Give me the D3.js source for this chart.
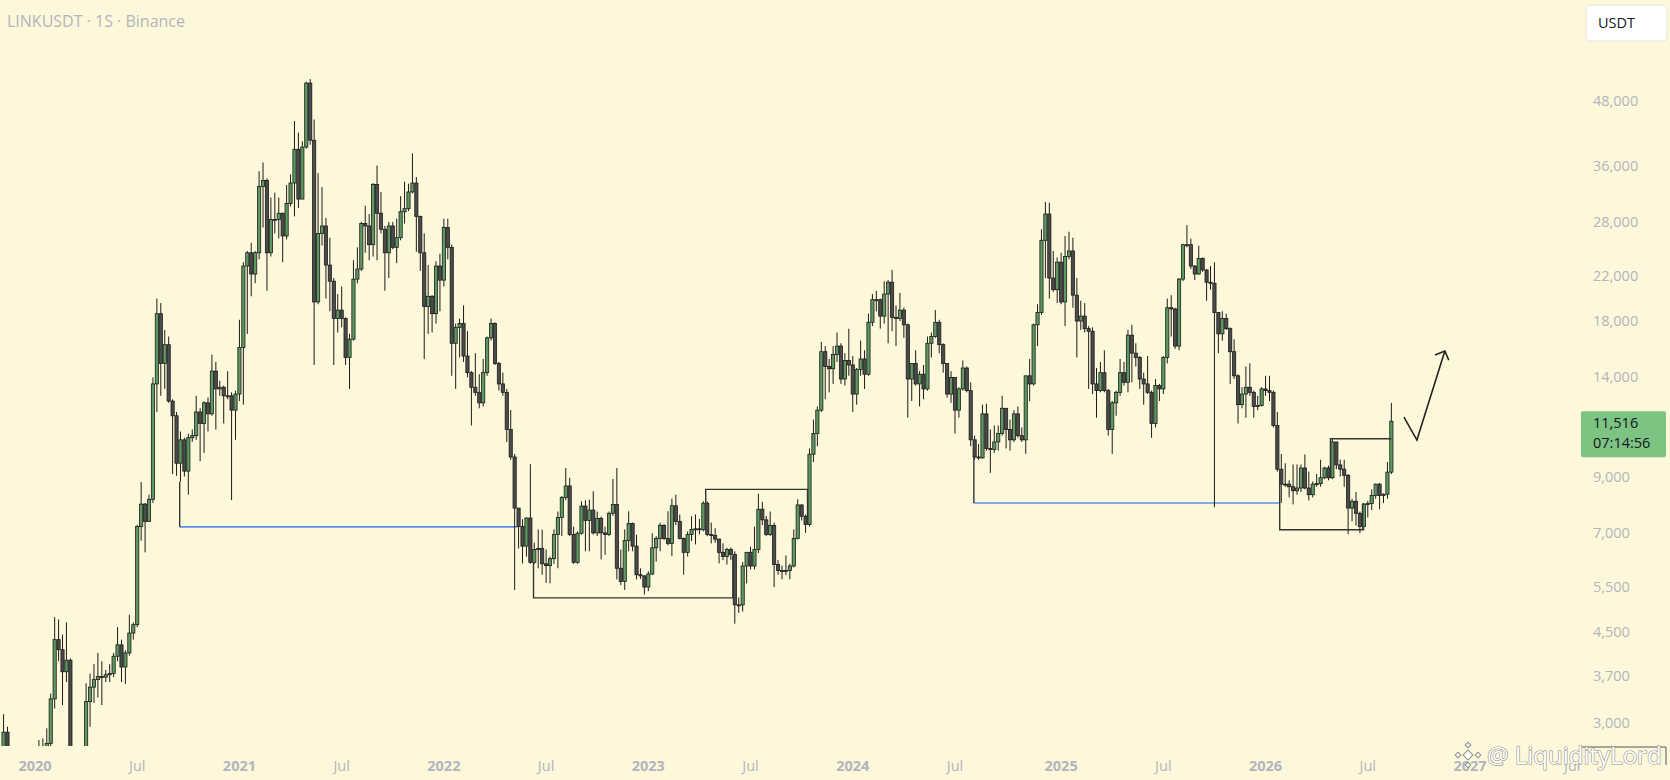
<!DOCTYPE html>
<html>
<head>
<meta charset="utf-8">
<script src="https://cdn.jsdelivr.net/npm/d3@7"></script>
<style>
html, body { margin: 0; padding: 0; background: #fdf8d9; }
svg { display: block; font-family: "Open Sans", "DejaVu Sans", sans-serif; }
</style>
</head>
<body>
<svg id="chart" width="1670" height="780"></svg>
<script>
// weekly LINKUSDT candles, first one is the week of 2019-11-11; each opens at the previous close
var firstWeek = Date.UTC(2019, 10, 11);
var firstOpen = 2600;

var closes = [
  2880, 2650, 2250, 2300, 2050, 1900, 1850, 1800,
  2050, 2300, 2500, 2740, 3340, 4350, 4160, 3770, 3970, 2400,
  2250, 2300, 2550, 3300, 3520, 3640, 3690, 3680, 3720, 3740,
  4040, 4250, 3850, 4100, 4480, 4650, 7200, 7960, 7370, 8130,
  13600, 18600, 14900, 16200, 12600, 11800, 9550, 10600, 9220, 10700,
  10800, 12000, 11400, 12500, 11900, 14400, 13300, 13400, 12900, 12900,
  12100, 13000, 16000, 23000, 24400, 22200, 24400, 32800, 33700, 24400,
  28300, 28300, 29100, 26300, 30400, 33300, 38700, 31000, 39100, 52000,
  40300, 19600, 26600, 27500, 23100, 21500, 18200, 18900, 18200, 15300,
  16600, 21700, 22700, 27800, 27500, 25300, 33100, 29100, 27100, 24400,
  27500, 25000, 26100, 29300, 29700, 32000, 33300, 28700, 24400, 19200,
  20100, 18600, 23000, 21600, 27300, 25000, 16300, 17500, 17800, 15400,
  14300, 13400, 13100, 12500, 14300, 16700, 17800, 14900, 13600, 13100,
  11100, 9820, 7820, 7200, 6600, 7480, 6140, 6500, 6530, 6100,
  6050, 6240, 6950, 7500, 8200, 8630, 6950, 6140, 6990, 7890,
  7400, 7750, 7000, 7470, 7000, 6950, 7640, 7950, 5980, 5640,
  6770, 7300, 6600, 5810, 5780, 5500, 5830, 6550, 6830, 7240,
  6830, 6680, 7900, 7370, 6830, 6420, 6950, 7110, 7130, 7100,
  7990, 6950, 6920, 6810, 6420, 6300, 6500, 6360, 5080, 5080,
  6040, 6420, 6040, 6500, 7780, 7420, 6950, 7240, 6080, 5920,
  5910, 5920, 6040, 6830, 7930, 7540, 7270, 9940, 10900, 12100,
  15700, 14700, 14550, 15500, 16100, 13900, 15100, 14800, 13000, 14500,
  15200, 14200, 17900, 19800, 19800, 18400, 20300, 21400, 18300, 18200,
  18900, 17700, 13900, 14900, 13600, 14200, 13300, 16300, 16800, 17900,
  16200, 14900, 13000, 14000, 12100, 13300, 14600, 13200, 10600, 9820,
  9780, 11900, 10200, 10150, 10500, 10900, 12200, 11100, 10600, 11900,
  10800, 10600, 14100, 13600, 17700, 18700, 25800, 29000, 21800, 20700,
  23400, 19600, 24000, 24600, 20200, 18000, 18400, 17400, 17200, 13600,
  13200, 14300, 13200, 11100, 12500, 13100, 14300, 13700, 16900, 15600,
  15300, 13900, 13600, 13100, 11400, 13500, 13300, 15300, 19100, 19000,
  16100, 21700, 25300, 25300, 23000, 22200, 23800, 22600, 21400, 21300,
  18700, 17000, 18200, 17400, 15700, 14100, 12400, 13000, 13400, 13100,
  12300, 12350, 13300, 13200, 13100, 11300, 9300, 8700, 8700, 8600,
  8450, 8550, 9350, 8550, 8300, 8700, 8720, 8950, 9350, 8950,
  10500, 9480, 9300, 9050, 7820, 8060, 7640, 7200, 7960, 7980,
  8270, 8700, 8270, 8320, 9180, 11516
];

var highs = [
  3120, 2950, 2680, 2450, 2350, 2100, 2000, 1900,
  2250, 2780, 2800, 2930, 3420, 4810, 4760, 4450, 4700, 4000,
  2600, 2550, 2650, 3580, 3740, 3900, 4100, 3950, 3800, 3900,
  4100, 4600, 4350, 4150, 4860, 4700, 7260, 8780, 8000, 8300,
  14000, 19900, 19500, 17300, 16800, 12700, 12000, 11000, 10700, 10900,
  11100, 12900, 12200, 12600, 12800, 15500, 15000, 13800, 13500, 14400,
  13100, 13200, 18100, 23400, 24600, 25500, 24600, 35100, 36500, 34000,
  31200, 31900, 31200, 29200, 33000, 34600, 43900, 41700, 40100, 52300,
  52900, 44200, 34800, 32700, 28500, 26100, 21800, 20300, 21000, 18300,
  17000, 23600, 25000, 28000, 30100, 29000, 33300, 36000, 32000, 27500,
  28000, 28000, 28400, 31400, 33500, 33200, 38000, 34200, 28800, 26600,
  23100, 20200, 23500, 24300, 28400, 28400, 25300, 17800, 18200, 19300,
  17200, 14400, 15600, 14200, 15200, 16800, 18200, 17900, 15000, 14300,
  13300, 12100, 9960, 7700, 7440, 7500, 9510, 6700, 7110, 7100,
  6500, 6300, 7110, 7700, 8250, 9350, 8950, 7200, 7050, 8060,
  8100, 8120, 8430, 7700, 7530, 7200, 7700, 8900, 9350, 6500,
  7110, 7710, 7330, 6950, 5980, 5800, 5900, 6990, 6900, 7330,
  7280, 7710, 8160, 8300, 7600, 6860, 7050, 7540, 7600, 7450,
  8060, 8060, 7330, 7150, 6820, 6680, 6550, 6560, 6450, 5250,
  6150, 6420, 6580, 7200, 8330, 8040, 7550, 7700, 7330, 6200,
  6050, 6330, 6100, 7110, 8130, 7950, 7600, 10200, 11600, 12300,
  16400, 16100, 15200, 16100, 17100, 16300, 15600, 17400, 15400, 14600,
  16500, 15800, 18600, 20300, 20600, 19900, 21500, 21600, 22600, 19300,
  20400, 19100, 17800, 14900, 15800, 14400, 14800, 16800, 17100, 18900,
  18100, 16300, 14900, 14400, 14000, 13400, 15100, 14700, 13700, 10800,
  10400, 12400, 12450, 11100, 11300, 11300, 12900, 12200, 11600, 12100,
  12300, 11200, 14100, 15200, 17800, 19400, 27100, 30600, 30500, 24600,
  23900, 24400, 26300, 26800, 26100, 21800, 19700, 19500, 17600, 17500,
  14600, 15000, 15800, 13300, 12600, 13200, 15200, 15000, 17300, 17700,
  16300, 15400, 14300, 15400, 13200, 13900, 13600, 15400, 19900, 20200,
  19100, 21800, 25400, 27600, 26000, 23100, 25200, 23900, 22700, 23000,
  23400, 18700, 18800, 18600, 17500, 16600, 14200, 13400, 14700, 14900,
  13200, 12900, 13400, 14100, 14100, 13200, 12000, 9950, 9550, 8850,
  9500, 9500, 9500, 9930, 9200, 8800, 9100, 9700, 9400, 9450,
  10650, 10400, 9700, 9700, 9100, 8150, 8400, 7700, 8000, 8080,
  8500, 8720, 8750, 8350, 9600, 12500
];

var lows = [
  2500, 2550, 2150, 2150, 1950, 1800, 1750, 1700,
  1780, 2000, 2250, 2450, 2700, 3200, 3950, 3250, 3600, 1700,
  1900, 2050, 2250, 2500, 2950, 3280, 3360, 3250, 3600, 3600,
  3680, 3950, 3600, 3570, 4050, 4350, 4600, 6760, 6420, 7350,
  8000, 12000, 12900, 13300, 12500, 9100, 9030, 8800, 9000, 8300,
  10500, 10600, 9640, 10000, 11000, 11800, 11100, 12900, 11400, 12700,
  8100, 10600, 12600, 12400, 17000, 20100, 21300, 23700, 27300, 20600,
  24000, 26600, 26000, 23400, 25900, 30000, 28700, 29800, 31000, 38800,
  39500, 14800, 19400, 25200, 19900, 18800, 14800, 17100, 17500, 14800,
  13300, 16500, 21300, 22500, 24400, 23600, 24000, 23600, 26600, 20600,
  21800, 24800, 23300, 25800, 27800, 29400, 31800, 24500, 22500, 15200,
  17000, 17100, 17800, 18800, 21000, 23700, 14100, 13300, 15300, 15000,
  14000, 11300, 12900, 12200, 12300, 14100, 16500, 14800, 13200, 12900,
  10500, 9700, 5430, 6530, 6110, 6300, 6100, 6100, 5980, 5810,
  5600, 5590, 6100, 5980, 6900, 8100, 6900, 6100, 6100, 6950,
  6450, 6450, 6950, 6900, 6220, 6350, 6900, 7550, 5690, 5550,
  5430, 6450, 6450, 5690, 5700, 5320, 5400, 5800, 6160, 6450,
  6780, 6620, 6310, 7250, 6800, 5810, 6300, 6750, 6650, 6950,
  7050, 6900, 6680, 6700, 6110, 6200, 6080, 6200, 4670, 4900,
  4930, 5590, 5950, 5950, 6400, 7250, 6900, 6900, 5500, 5810,
  5690, 5800, 5690, 6000, 6800, 7400, 7000, 7200, 9600, 10300,
  12000, 12700, 13100, 13600, 15000, 13600, 13500, 14100, 12000, 12400,
  14100, 13300, 14100, 17600, 18800, 17400, 17800, 16300, 17200, 16100,
  18000, 16700, 11700, 12600, 13500, 12300, 12700, 13200, 15300, 16700,
  15600, 14300, 12800, 12500, 10900, 11700, 13200, 13100, 10300, 9700,
  9700, 9750, 10100, 9150, 10000, 10100, 10800, 10200, 10100, 10500,
  10700, 10500, 9960, 12600, 13500, 16100, 18500, 21800, 19900, 20500,
  19500, 19400, 17600, 23700, 19100, 15300, 17300, 17100, 13300, 13000,
  11700, 13100, 13100, 10800, 9960, 11800, 12900, 13500, 13100, 13700,
  14700, 13300, 12400, 13000, 10700, 11200, 12600, 13000, 14900, 16800,
  15900, 15800, 21500, 25000, 22700, 21600, 22100, 22400, 19700, 20700,
  7850, 15600, 16500, 17300, 13600, 13900, 11400, 12200, 11700, 12900,
  11700, 12100, 12300, 12900, 12600, 11200, 9200, 8000, 8600, 8200,
  7950, 8300, 8400, 8500, 8090, 8200, 8600, 8600, 8900, 8850,
  8900, 9300, 9000, 8600, 6960, 7370, 7230, 6990, 7080, 7500,
  7750, 8150, 7780, 8000, 8150, 9100
];

var priceTicks = [48000, 36000, 28000, 22000, 18000, 14000, 9000, 7000, 5500, 4500, 3700, 3000];
var tickYears = [2020, 2021, 2022, 2023, 2024, 2025, 2026, 2027];
var tickMonths = [0, 6];
var lastPrice = 11516, countdown = '07:14:56';

// drawings on the chart: [weeks since first candle, price]
var blueLines = [
  [[44.8, 7190], [130.7, 7190]],
  [[246.8, 8000], [324.6, 8000]]
];
var blackLines = [
  [[44.8, 8800], [44.8, 7190]],
  [[246.8, 9820], [246.8, 8000]],
  [[134.8, 6140], [134.8, 5240], [185.5, 5240], [185.5, 6330]],
  [[178.6, 8000], [178.6, 8500], [204.5, 8500], [204.5, 7270]],
  [[324.6, 9300], [324.6, 7100], [345.7, 7100], [345.7, 7980]],
  [[337.5, 8950], [337.5, 10650], [353, 10650]]
];
var arrowPath = [[356.2, 11730], [359.5, 10590], [366.6, 15750]];
var arrowHead = [[364.1, 15470], [366.6, 15750], [367.6, 15120]];

var WEEK = 7 * 864e5;
var plotW = 1580, plotH = 746;
var svg = d3.select('#chart');

var x = d3.scaleUtc().domain([new Date(Date.UTC(2020, 0, 6)), new Date(Date.UTC(2027, 0, 4))]).range([35, 1470]);
var y = d3.scaleLog().domain([3000, 48000]).range([723, 101]);
function wx(i) { return x(new Date(firstWeek + i * WEEK)); }

var candles = closes.map(function(c, i) {
  return { t: new Date(firstWeek + i * WEEK), o: i ? closes[i - 1] : firstOpen, h: highs[i], l: lows[i], c: c };
});

svg.append('defs').append('clipPath').attr('id', 'plot-clip')
  .append('rect').attr('x', 0).attr('y', 0).attr('width', plotW).attr('height', plotH);
svg.append('defs').append('clipPath').attr('id', 'time-clip')
  .append('rect').attr('x', 0).attr('y', plotH).attr('width', plotW).attr('height', 780 - plotH);

var plot = svg.append('g').attr('clip-path', 'url(#plot-clip)');

var line = d3.line().x(function(p) { return wx(p[0]); }).y(function(p) { return y(p[1]); });

plot.selectAll('path.blue').data(blueLines).enter().append('path').attr('class', 'blue')
  .attr('d', line).attr('fill', 'none').attr('stroke', '#5b8ef0').attr('stroke-width', 1.6);

var cg = plot.selectAll('g.candle').data(candles).enter().append('g').attr('class', 'candle');
cg.append('line')
  .attr('x1', function(d) { return x(d.t); }).attr('x2', function(d) { return x(d.t); })
  .attr('y1', function(d) { return y(Math.max(d.h, d.o, d.c)); })
  .attr('y2', function(d) { return y(Math.min(d.l, d.o, d.c)); })
  .attr('stroke', '#1c1c1c').attr('stroke-width', 1);
cg.append('rect')
  .attr('x', function(d) { return x(d.t) - 1.6; }).attr('width', 3.2)
  .attr('y', function(d) { return y(Math.max(d.o, d.c)); })
  .attr('height', function(d) { return Math.max(1, y(Math.min(d.o, d.c)) - y(Math.max(d.o, d.c))); })
  .attr('fill', function(d) { return d.c >= d.o ? '#5c9a5f' : '#4b4b4b'; })
  .attr('stroke', '#1c1c1c').attr('stroke-width', 0.8);

plot.selectAll('path.black').data(blackLines).enter().append('path').attr('class', 'black')
  .attr('d', line).attr('fill', 'none').attr('stroke', '#333').attr('stroke-width', 1.4);

plot.append('path').attr('d', line(arrowPath)).attr('fill', 'none')
  .attr('stroke', '#222').attr('stroke-width', 1.6).attr('stroke-linejoin', 'miter');
plot.append('path').attr('d', line(arrowHead)).attr('fill', 'none')
  .attr('stroke', '#222').attr('stroke-width', 1.6);

// title
svg.append('text').attr('x', 7).attr('y', 27).attr('fill', '#b2b5be').attr('font-size', '16px')
  .text('LINKUSDT · 1S · Binance');

// price scale
svg.append('g').selectAll('text').data(priceTicks).enter().append('text')
  .attr('x', 1593).attr('y', function(d) { return y(d) + 5; })
  .attr('fill', '#b2b5be').attr('font-size', '14.5px')
  .text(function(d) { return d3.format(',')(d); });

var ly = y(lastPrice);
svg.append('rect').attr('x', 1581).attr('y', ly - 10).attr('width', 85).attr('height', 46).attr('rx', 2)
  .attr('fill', '#7dc482');
svg.append('text').attr('x', 1593).attr('y', ly + 7).attr('fill', '#131722').attr('font-size', '14.5px')
  .text(d3.format(',')(lastPrice));
svg.append('text').attr('x', 1593).attr('y', ly + 27).attr('fill', '#131722').attr('font-size', '14.5px')
  .text(countdown);

svg.append('rect').attr('x', 1586).attr('y', 5).attr('width', 81).attr('height', 36).attr('rx', 4)
  .attr('fill', '#fff').attr('stroke', '#e6e6e0');
svg.append('text').attr('x', 1598).attr('y', 28).attr('fill', '#131722').attr('font-size', '14.5px').text('USDT');

// time scale
var timeTicks = [];
tickYears.forEach(function(yr) {
  tickMonths.forEach(function(m) {
    timeTicks.push({ t: d3.utcMonday.ceil(new Date(Date.UTC(yr, m, 1))), label: m === 0 ? String(yr) : 'Jul', year: m === 0 });
  });
});
svg.append('g').attr('clip-path', 'url(#time-clip)').selectAll('text').data(timeTicks).enter().append('text')
  .attr('x', function(d) { return x(d.t); }).attr('y', 771)
  .attr('text-anchor', 'middle').attr('fill', '#b2b5be').attr('font-size', '14.5px')
  .attr('font-weight', function(d) { return d.year ? 700 : 400; })
  .text(function(d) { return d.label; });

svg.append('path').attr('d', 'M1580,747H1666V765').attr('fill', 'none').attr('stroke', '#555').attr('stroke-width', 1);

// watermark
var wm = svg.append('g').attr('opacity', 0.95);
var logo = wm.append('g').attr('transform', 'translate(1468,755)');
[[0, 0, 7], [0, -10, 4], [10, 0, 4], [0, 10, 4], [-10, 0, 4]].forEach(function(p) {
  logo.append('rect').attr('x', p[0] - p[2] / 2).attr('y', p[1] - p[2] / 2).attr('width', p[2]).attr('height', p[2])
    .attr('transform', 'rotate(45,' + p[0] + ',' + p[1] + ')')
    .attr('fill', '#fff').attr('stroke', '#8a8a8a').attr('stroke-width', 1);
});
wm.append('text').attr('x', 1487).attr('y', 764).attr('font-size', '24px')
  .attr('fill', '#fff').attr('stroke', '#8a8a8a').attr('stroke-width', 1.2).attr('paint-order', 'stroke')
  .text('@ LiquidityLord');
</script>
</body>
</html>
